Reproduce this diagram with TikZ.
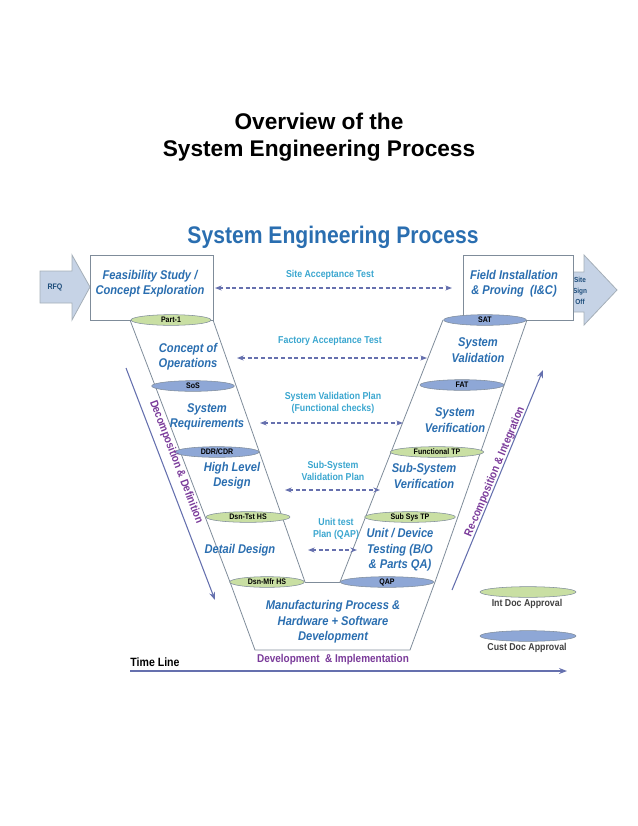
\documentclass[tikz,border=0pt]{standalone}
\usepackage{fontspec}
\setmainfont{Liberation Sans}
\newfontfamily\narrowf[FakeStretch=0.88]{Liberation Sans}
\usetikzlibrary{arrows.meta,shapes.geometric}
\definecolor{vblue}{HTML}{2A6EB0}
\definecolor{cyanl}{HTML}{3AA6CF}
\definecolor{purp}{HTML}{7A3B9A}
\definecolor{egreen}{HTML}{C9DFA3}
\definecolor{eblue}{HTML}{8EA7D6}
\definecolor{lineg}{HTML}{7F8C9A}
\definecolor{arrfill}{HTML}{C6D3E6}
\tikzset{
 stagetxt/.style={font=\narrowf\bfseries\itshape\fontsize{9.5}{11.5}\selectfont, text=vblue, align=center},
 midtxt/.style={font=\narrowf\bfseries\fontsize{7.5}{9}\selectfont, text=cyanl, align=center},
 gate/.style={ellipse, draw=lineg, minimum height=8pt, inner sep=0pt, font=\narrowf\bfseries\fontsize{6}{7}\selectfont},
 ggate/.style={gate, fill=egreen},
 bgate/.style={gate, fill=eblue},
 dasharr/.style={densely dashed, thick, color=lineg!80!blue, {Stealth[length=5pt]}-{Stealth[length=5pt]}},
 band/.style={draw=lineg, line width=0.6pt},
 bigarr/.style={draw=lineg!70, fill=arrfill, line width=0.6pt},
 sidetxt/.style={font=\narrowf\bfseries\fontsize{8.5}{10}\selectfont, text=purp},
}
\begin{document}
\begin{tikzpicture}[x=0.75pt,y=-0.75pt]
\useasboundingbox (0,0) rectangle (638,826);
\node[font=\bfseries\fontsize{17}{20}\selectfont, align=center] (title) at (319,137) {Overview of the\\System Engineering Process};
\node[font=\narrowf\bfseries\fontsize{18}{20}\selectfont, text=vblue] (title2) at (333,237) {System Engineering Process};
% big arrows
\draw[bigarr] (40,271) -- (72,271) -- (72,255) -- (90,287) -- (72,320) -- (72,303) -- (40,303) -- cycle;
\node[font=\narrowf\bfseries\fontsize{6}{7}\selectfont, text=vblue!70!black] (rfq) at (55,287) {RFQ};
\draw[bigarr] (560,272) -- (584,272) -- (584,255) -- (617,290) -- (584,325) -- (584,312) -- (560,312) -- cycle;
\node[font=\narrowf\bfseries\fontsize{5.5}{8}\selectfont, text=vblue!70!black, align=center] (sso) at (580,291) {Site\\Sign\\Off};
% boxes
\draw[band, fill=white] (90,255) rectangle (213,320);
\draw[band, fill=white] (463,255) rectangle (573,320);
% bands
\draw[band] (130,320) -- (230,582);
\draw[band] (213,320) -- (305,582);
\draw[band] (527,320) -- (435,582);
\draw[band] (443,320) -- (340,582);
\draw[band] (230,582) -- (255,650) -- (410,650) -- (435,582);
\draw[band] (305,582) -- (340,582);
% gates
\node[ggate, minimum width=60pt] (p1) at (171,320) {Part-1};
\node[bgate, minimum width=62pt] (sos) at (193,386) {SoS};
\node[bgate, minimum width=63pt] (ddr) at (217,452) {DDR/CDR};
\node[ggate, minimum width=63pt] (dt) at (248,517) {Dsn-Tst HS};
\node[ggate, minimum width=56pt] (dm) at (267,582) {Dsn-Mfr HS};
\node[bgate, minimum width=62pt] (sat) at (485,320) {SAT};
\node[bgate, minimum width=63pt] (fat) at (462,385) {FAT};
\node[ggate, minimum width=70pt] (ftp) at (437,452) {Functional TP};
\node[ggate, minimum width=68pt] (sst) at (410,517) {Sub Sys TP};
\node[bgate, minimum width=70pt] (qap) at (387,582) {QAP};
% stage text
\node[stagetxt] (fs) at (150,284) {Feasibility Study /\\Concept Exploration};
\node[stagetxt] (co) at (188,357) {Concept of\\Operations};
\node[stagetxt] (sr) at (207,417) {System\\Requirements};
\node[stagetxt] (hl) at (232,476) {High Level\\Design};
\node[stagetxt] (dd) at (240,550) {Detail Design};
\node[stagetxt] (fi) at (514,284) {Field Installation\\\& Proving\ \ (I\&C)};
\node[stagetxt] (sv) at (478,350) {System\\Validation};
\node[stagetxt] (sve) at (455,420) {System\\Verification};
\node[stagetxt] (ssv) at (424,476) {Sub-System\\Verification};
\node[stagetxt] (ud) at (400,550) {Unit / Device\\Testing (B/O\\\& Parts QA)};
\node[stagetxt] (mp) at (333,622) {Manufacturing Process \&\\Hardware + Software\\Development};
% mid arrows
\node[midtxt] (t1) at (330,275) {Site Acceptance Test};
\coordinate (a1l) at (215,288); \coordinate (a1r) at (452,288);
\draw[dasharr] (a1l) -- (a1r);
\node[midtxt] (t2) at (330,341) {Factory Acceptance Test};
\coordinate (a2l) at (237,358); \coordinate (a2r) at (427,358);
\draw[dasharr] (a2l) -- (a2r);
\node[midtxt] (t3) at (333,403) {System Validation Plan\\(Functional checks)};
\coordinate (a3l) at (260,423); \coordinate (a3r) at (403,423);
\draw[dasharr] (a3l) -- (a3r);
\node[midtxt] (t4) at (333,471) {Sub-System\\Validation Plan};
\coordinate (a4l) at (285,490); \coordinate (a4r) at (380,490);
\draw[dasharr] (a4l) -- (a4r);
\node[midtxt] (t5) at (336,529) {Unit test\\Plan (QAP)};
\coordinate (a5l) at (308,550); \coordinate (a5r) at (357,550);
\draw[dasharr] (a5l) -- (a5r);
% side arrows
\coordinate (d1) at (126,368); \coordinate (d2) at (215,600);
\draw[lineg!80!blue, thick, -{Stealth[length=6pt]}] (d1) -- (d2);
\node[sidetxt, rotate=-69] (dec) at (176,462) {Decomposition \& Definition};
\coordinate (r1) at (452,590); \coordinate (r2) at (543,370);
\draw[lineg!80!blue, thick, -{Stealth[length=6pt]}] (r1) -- (r2);
\node[sidetxt, rotate=67.5] (rec) at (495,472) {Re-composition \& Integration};
% bottom
\node[sidetxt] (dev) at (333,660) {Development\ \ \& Implementation};
\node[font=\narrowf\bfseries\fontsize{9}{10}\selectfont] (tl) at (155,662) {Time Line};
\coordinate (tl1) at (130,671); \coordinate (tl2) at (567,671);
\draw[lineg!80!blue, thick, -{Stealth[length=6pt]}] (tl1) -- (tl2);
% legend
\node[ggate, minimum width=72pt] (lg) at (528,592) {};
\node[font=\narrowf\bfseries\fontsize{7.5}{9}\selectfont, text=black!75] (lgt) at (527,604) {Int Doc Approval};
\node[bgate, minimum width=72pt] (lb) at (528,636) {};
\node[font=\narrowf\bfseries\fontsize{7.5}{9}\selectfont, text=black!75] (lbt) at (527,648) {Cust Doc Approval};
\end{tikzpicture}
\end{document}
